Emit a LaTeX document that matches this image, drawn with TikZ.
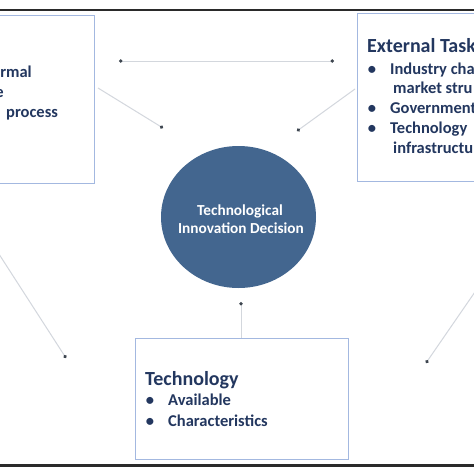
\documentclass[tikz,border=0pt]{standalone}
\usepackage{fontspec}
\setmainfont{Carlito}
\usetikzlibrary{shapes.geometric,arrows.meta}
\definecolor{navy}{HTML}{23375F}
\definecolor{boxblue}{HTML}{A3B8E0}
\definecolor{circblue}{HTML}{43668F}
\definecolor{linegrey}{HTML}{D3D7DD}
\definecolor{tipgrey}{HTML}{3E4650}
\definecolor{rulegrey}{HTML}{2A2A2A}
\tikzset{
  panel/.style={draw=boxblue, line width=0.9pt, fill=white, inner sep=0pt, anchor=north west},
  head/.style={anchor=base west, text=navy, font=\fontsize{20}{24}\selectfont\bfseries, inner sep=0pt},
  item/.style={anchor=base west, text=navy, font=\fontsize{16.5}{20}\selectfont\bfseries, inner sep=0pt},
  itemE/.style={anchor=base east, text=navy, font=\fontsize{16.5}{20}\selectfont\bfseries, inner sep=0pt},
  bul/.style={anchor=base, text=navy, font=\fontsize{16.5}{20}\selectfont\bfseries, inner sep=0pt},
  ctext/.style={anchor=base, text=white, font=\fontsize{15.3}{18}\selectfont\bfseries, inner sep=0pt},
  conn/.style={draw=linegrey, line width=1pt, -{Circle[length=3.4pt,fill=tipgrey,color=tipgrey]}},
  conn2/.style={draw=linegrey, line width=1pt, {Circle[length=3.4pt,fill=tipgrey,color=tipgrey]}-{Circle[length=3.4pt,fill=tipgrey,color=tipgrey]}},
  rulel/.style={draw=rulegrey}
}
\begin{document}
\begin{tikzpicture}[x=1pt,y=-1pt]
\useasboundingbox (0,0) rectangle (474,474);
\fill[white] (0,0) rectangle (474,474);
% rules
\draw[rulel, line width=2pt] (0,10) -- (474,10);
\draw[rulel, line width=3pt] (0,465) -- (474,465);
% boxes
\node[panel, minimum width=99pt, minimum height=168pt] (L) at (-5,15) {};
\node[panel, minimum width=125pt, minimum height=168pt] (R) at (357,13) {};
\node[panel, minimum width=213pt, minimum height=121pt] (B) at (135,338) {};
% circle
\node[ellipse, fill=circblue, minimum width=155pt, minimum height=142pt, inner sep=0pt] (C) at (238.5,217) {};
\node[ctext] (c1) at (240,215) {Technological};
\node[ctext] (c2) at (241,233) {Innovation Decision};
% left box text
\node[itemE] (l1) at (32,77) {rmal};
\node[itemE] (l2) at (4,97) {e};
\node[item] (l3) at (6,117) {process};
% right box text
\node[head] (r0) at (367,52) {External Task};
\node[bul] (rb1) at (372,74) {\textbullet};
\node[item] (r1) at (390,74) {Industry cha};
\node[item] (r1b) at (393,93) {market stru};
\node[bul] (rb2) at (372,113) {\textbullet};
\node[item] (r2) at (390,113) {Government};
\node[bul] (rb3) at (372,133) {\textbullet};
\node[item] (r3) at (390,133) {Technology};
\node[item] (r3b) at (393,153) {infrastructu};
% bottom box text
\node[head] (b0) at (145,385) {Technology};
\node[bul] (bb1) at (150,405) {\textbullet};
\node[item] (b1) at (168,405) {Available};
\node[bul] (bb2) at (150,426) {\textbullet};
\node[item] (b2) at (168,426) {Characteristics};
% connector ends
\coordinate (t1) at (119,61);
\coordinate (t2) at (334,61);
\coordinate (ls) at (98,88);
\coordinate (le) at (163,128);
\coordinate (rs) at (355,89);
\coordinate (re) at (297,131);
\coordinate (be) at (241,302);
\coordinate (lls) at (-3,251);
\coordinate (lle) at (66,358);
\coordinate (lrs) at (477,289);
\coordinate (lre) at (426,363);
% connectors
\draw[conn2] (t1) -- (t2);
\draw[conn] (ls) -- (le);
\draw[conn] (rs) -- (re);
\draw[conn] (B.north -| be) -- (be);
\draw[conn] (lls) -- (lle);
\draw[conn] (lrs) -- (lre);
\end{tikzpicture}
\end{document}
